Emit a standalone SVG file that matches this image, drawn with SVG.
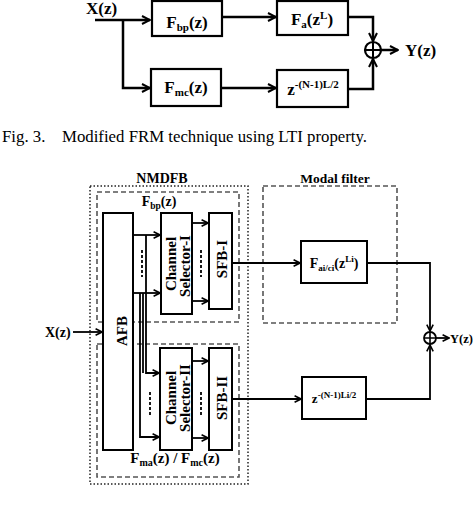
<svg xmlns="http://www.w3.org/2000/svg" width="474" height="514" viewBox="0 0 474 514">
<style>
text{font-family:"Liberation Serif","Times New Roman",serif;fill:#000}
.b{font-weight:bold}
.box{fill:#fff;stroke:#000;stroke-width:2.2}
.box2{fill:#fff;stroke:#000;stroke-width:2}
.ln{fill:none;stroke:#000;stroke-width:2.5}
.ln2{fill:none;stroke:#000;stroke-width:1.8}
.dash{fill:none;stroke:#555;stroke-width:1.6;stroke-dasharray:5 3}
.dot{fill:none;stroke:#222;stroke-width:1.5;stroke-dasharray:1.5 2}
.vd{fill:none;stroke:#000;stroke-width:1.8;stroke-dasharray:3 2}
</style>
<defs>
<marker id="ah" viewBox="0 0 10 10" refX="9" refY="5" markerWidth="10" markerHeight="10" markerUnits="userSpaceOnUse" orient="auto"><path d="M1,1 L9,5 L1,9" fill="none" stroke="#000" stroke-width="2"/></marker>
<marker id="as" viewBox="0 0 10 10" refX="9" refY="5" markerWidth="8" markerHeight="8" markerUnits="userSpaceOnUse" orient="auto"><path d="M1,1 L9,5 L1,9" fill="none" stroke="#000" stroke-width="2"/></marker>
</defs>

<!-- Top diagram (Fig. 3) -->
<g id="connectors-top">
<path class="ln" d="M95,20 H150" marker-end="url(#ah)"/>
<path class="ln" d="M123,20 V88 H150" marker-end="url(#ah)"/>
<path class="ln" d="M222,17 H276" marker-end="url(#ah)"/>
<path class="ln" d="M221,88 H276" marker-end="url(#ah)"/>
<path class="ln" d="M348,17 H373 V41" marker-end="url(#ah)"/>
<path class="ln" d="M348,89 H373 V59" marker-end="url(#ah)"/>
<path class="ln" d="M381,50 H398" marker-end="url(#ah)"/>
</g>
<g id="xin-top"><text class="b" x="86" y="14" font-size="17">X(z)</text></g>
<g id="fbp-top">
<rect class="box" x="152" y="1" width="70" height="35"/>
<text class="b" x="187" y="28" font-size="17" text-anchor="middle">F<tspan font-size="11" dy="3">bp</tspan><tspan dy="-3">(z)</tspan></text>
</g>
<g id="fa-top">
<rect class="box" x="277" y="1" width="71" height="34"/>
<text class="b" x="312" y="25" font-size="17" text-anchor="middle">F<tspan font-size="11" dy="3">a</tspan><tspan dy="-3">(z</tspan><tspan font-size="11" dy="-6">L</tspan><tspan dy="6">)</tspan></text>
</g>
<g id="fmc-top">
<rect class="box" x="151" y="69" width="70" height="37"/>
<text class="b" x="186" y="93" font-size="17" text-anchor="middle">F<tspan font-size="11" dy="3">mc</tspan><tspan dy="-3">(z)</tspan></text>
</g>
<g id="delay-top">
<rect class="box" x="277" y="70" width="71" height="37"/>
<text class="b" x="313" y="95" font-size="17" text-anchor="middle">z<tspan font-size="11" dy="-7">-(N-1)L/2</tspan></text>
</g>
<g id="sum-top">
<circle cx="373" cy="50" r="8" fill="#fff" stroke="#000" stroke-width="2.2"/>
<path d="M365,50 H381 M373,42 V58" stroke="#000" stroke-width="2"/>
</g>
<g id="yout-top"><text class="b" x="405" y="56" font-size="17">Y(z)</text></g>

<!-- Caption -->
<g id="caption">
<text x="2" y="142" font-size="16.8">Fig. 3.</text>
<text x="62" y="142" font-size="16.8">Modified FRM technique using LTI property.</text>
</g>

<!-- Bottom diagram -->
<g id="groups">
<rect class="dot" x="90" y="186" width="158" height="298"/>
<text class="b" x="162" y="183" font-size="14" text-anchor="middle">NMDFB</text>
<rect class="dash" x="97" y="192" width="142" height="130"/>
<text class="b" x="159" y="206" font-size="14" text-anchor="middle">F<tspan font-size="9.5" dy="2.5">bp</tspan><tspan dy="-2.5">(z)</tspan></text>
<rect class="dash" x="97" y="344" width="142" height="133"/>
<text class="b" x="175" y="463" font-size="15" text-anchor="middle">F<tspan font-size="10" dy="3">ma</tspan><tspan dy="-3">(z) / F</tspan><tspan font-size="10" dy="3">mc</tspan><tspan dy="-3">(z)</tspan></text>
<rect class="dash" x="263" y="186" width="134" height="137"/>
<text class="b" x="335" y="183" font-size="13.5" text-anchor="middle">Modal filter</text>
</g>

<g id="connectors">
<path class="ln2" d="M73,332 H102" marker-end="url(#as)"/>
<path class="ln2" d="M133,235 H160" marker-end="url(#as)"/>
<path class="ln2" d="M133,293 H160" marker-end="url(#as)"/>
<path class="ln2" d="M146,235 V373 H159" marker-end="url(#as)"/>
<path class="ln2" d="M143,293 V373"/>
<path class="ln2" d="M140,293 V437 H159" marker-end="url(#as)"/>
<path class="ln2" d="M192,223 H208" marker-end="url(#as)"/>
<path class="ln2" d="M192,301 H208" marker-end="url(#as)"/>
<path class="ln2" d="M192,361 H208" marker-end="url(#as)"/>
<path class="ln2" d="M192,438 H208" marker-end="url(#as)"/>
<path class="vd" d="M142,250 V277"/>
<path class="vd" d="M201,250 V277"/>
<path class="vd" d="M150,392 V415"/>
<path class="vd" d="M201,392 V415"/>
<path class="ln2" d="M232,263 H300" marker-end="url(#as)"/>
<path class="ln2" d="M232,399 H301" marker-end="url(#as)"/>
<path class="ln2" d="M367,263 H430 V331" marker-end="url(#as)"/>
<path class="ln2" d="M366,399 H430 V345" marker-end="url(#as)"/>
<path class="ln2" d="M436,338 H449" marker-end="url(#as)"/>
</g>

<g id="xin"><text class="b" x="45" y="337" font-size="14">X(z)</text></g>
<g id="afb">
<rect class="box2" x="103" y="213" width="30" height="237"/>
<text class="b" transform="translate(127,331) rotate(-90)" font-size="15" text-anchor="middle">AFB</text>
</g>
<g id="cs1">
<rect class="box2" x="161" y="213" width="31" height="101"/>
<text class="b" transform="translate(176,264) rotate(-90)" font-size="15" text-anchor="middle">Channel</text>
<text class="b" transform="translate(190,266) rotate(-90)" font-size="15" text-anchor="middle">Selector-I</text>
</g>
<g id="sfb1">
<rect class="box2" x="209" y="213" width="23" height="96"/>
<text class="b" transform="translate(227,259) rotate(-90)" font-size="15" text-anchor="middle">SFB-I</text>
</g>
<g id="cs2">
<rect class="box2" x="160" y="348" width="32" height="102"/>
<text class="b" transform="translate(176,398) rotate(-90)" font-size="15" text-anchor="middle">Channel</text>
<text class="b" transform="translate(190,398) rotate(-90)" font-size="15" text-anchor="middle">Selector-II</text>
</g>
<g id="sfb2">
<rect class="box2" x="209" y="348" width="23" height="102"/>
<text class="b" transform="translate(227,398) rotate(-90)" font-size="15" text-anchor="middle">SFB-II</text>
</g>
<g id="fai">
<rect class="box2" x="301" y="241" width="66" height="42"/>
<text class="b" x="334" y="268" font-size="14" text-anchor="middle">F<tspan font-size="9" dy="3">ai/ci</tspan><tspan dy="-3">(z</tspan><tspan font-size="9" dy="-6">Li</tspan><tspan dy="6">)</tspan></text>
</g>
<g id="delay">
<rect class="box2" x="302" y="377" width="64" height="42"/>
<text class="b" x="334" y="403" font-size="13" text-anchor="middle">z<tspan font-size="9" dy="-5">-(N-1)Li/2</tspan></text>
</g>
<g id="sum">
<circle cx="430" cy="338" r="6" fill="#fff" stroke="#000" stroke-width="1.8"/>
<path d="M424,338 H436 M430,332 V344" stroke="#000" stroke-width="1.6"/>
</g>
<g id="yout"><text class="b" x="450" y="343" font-size="12.5">Y(z)</text></g>
</svg>
